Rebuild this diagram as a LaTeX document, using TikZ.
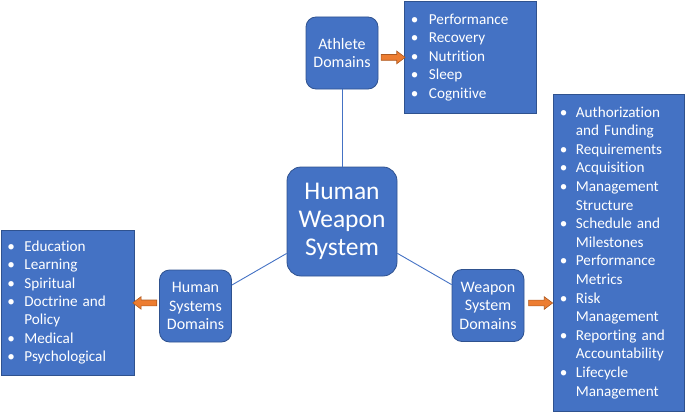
\documentclass[tikz,border=0pt]{standalone}
\usepackage{fontspec}
\setmainfont{Carlito}[Ligatures=NoCommon]
\usetikzlibrary{shapes.arrows,calc}
\definecolor{boxblue}{HTML}{4472C4}
\definecolor{boxedge}{HTML}{2F528F}
\definecolor{arrorange}{HTML}{ED7D31}
\definecolor{arredge}{HTML}{AE5A21}
\newcommand{\itm}[2]{\strut\makebox[#1][l]{\textbullet}#2}
\newcommand{\cnt}[2]{\strut\hspace*{#1}#2}
\begin{document}
\begin{tikzpicture}[x=1pt,y=-1pt,
 domainbox/.style={draw=boxedge, fill=boxblue, rounded corners=10pt, minimum width=72pt, minimum height=72pt, inner sep=0pt, text=white, align=center, font=\fontsize{16}{18.5}\selectfont, line width=0.8pt},
 hubbox/.style={domainbox, rounded corners=14pt, minimum width=110pt, minimum height=109pt, font=\fontsize{25.5}{28}\selectfont},
 listbox/.style={draw=boxedge, fill=boxblue, anchor=north west, inner xsep=6.5pt, inner ysep=0pt, text=white, align=left, line width=0.8pt},
 link/.style={draw=boxblue, line width=0.9pt},
 blockarrow/.style={single arrow, draw=arredge, fill=arrorange, line width=0.6pt, inner sep=2.6pt, single arrow head extend=3.4pt, single arrow tip angle=74, minimum height=24pt, minimum width=0pt, anchor=center}
]
\useasboundingbox (0,0) rectangle (685,412);

\node[hubbox] (hws) at (342,221.5) {Human\\Weapon\\System};
\node[domainbox] (ath) at (342,53) {Athlete\\Domains};
\node[domainbox] (hsd) at (195.5,306) {Human\\Systems\\Domains};
\node[domainbox] (wsd) at (488,305.5) {Weapon\\System\\Domains};

\node[listbox, text width=119pt, minimum height=112pt, font=\fontsize{15.2}{18.5}\selectfont] (athl) at (404,1) {%
\itm{18pt}{Performance}\\
\itm{18pt}{Recovery}\\
\itm{18pt}{Nutrition}\\
\itm{18pt}{Sleep}\\
\itm{18pt}{Cognitive}};

\node[listbox, text width=118pt, minimum height=317pt, font=\fontsize{15.2}{18.6}\selectfont] (wsdl) at (553,94) {%
\itm{16pt}{Authorization}\\
\cnt{16pt}{and Funding}\\
\itm{16pt}{Requirements}\\
\itm{16pt}{Acquisition}\\
\itm{16pt}{Management}\\
\cnt{16pt}{Structure}\\
\itm{16pt}{Schedule and}\\
\cnt{16pt}{Milestones}\\
\itm{16pt}{Performance}\\
\cnt{16pt}{Metrics}\\
\itm{16pt}{Risk}\\
\cnt{16pt}{Management}\\
\itm{16pt}{Reporting and}\\
\cnt{16pt}{Accountability}\\
\itm{16pt}{Lifecycle}\\
\cnt{16pt}{Management}};

\node[listbox, text width=120pt, minimum height=145pt, font=\fontsize{15.2}{18.3}\selectfont] (hsdl) at (0.5,230) {%
\itm{17pt}{Education}\\
\itm{17pt}{Learning}\\
\itm{17pt}{Spiritual}\\
\itm{17pt}{Doctrine and}\\
\cnt{17pt}{Policy}\\
\itm{17pt}{Medical}\\
\itm{17pt}{Psychological}};

\draw[link] (hws) -- (ath);
\draw[link] (hws) -- (hsd);
\draw[link] (hws) -- (wsd);

\node[blockarrow] (a1) at ($(ath.east |- athl.west)!0.5!(athl.west)$) {};
\node[blockarrow, yshift=2.5pt] (a2) at ($(wsd.east)!0.5!(wsdl.west |- wsd.east)$) {};
\node[blockarrow, shape border rotate=180] (a3) at ($(hsdl.east)!0.5!(hsd.west |- hsdl.east)$) {};
\end{tikzpicture}
\end{document}
